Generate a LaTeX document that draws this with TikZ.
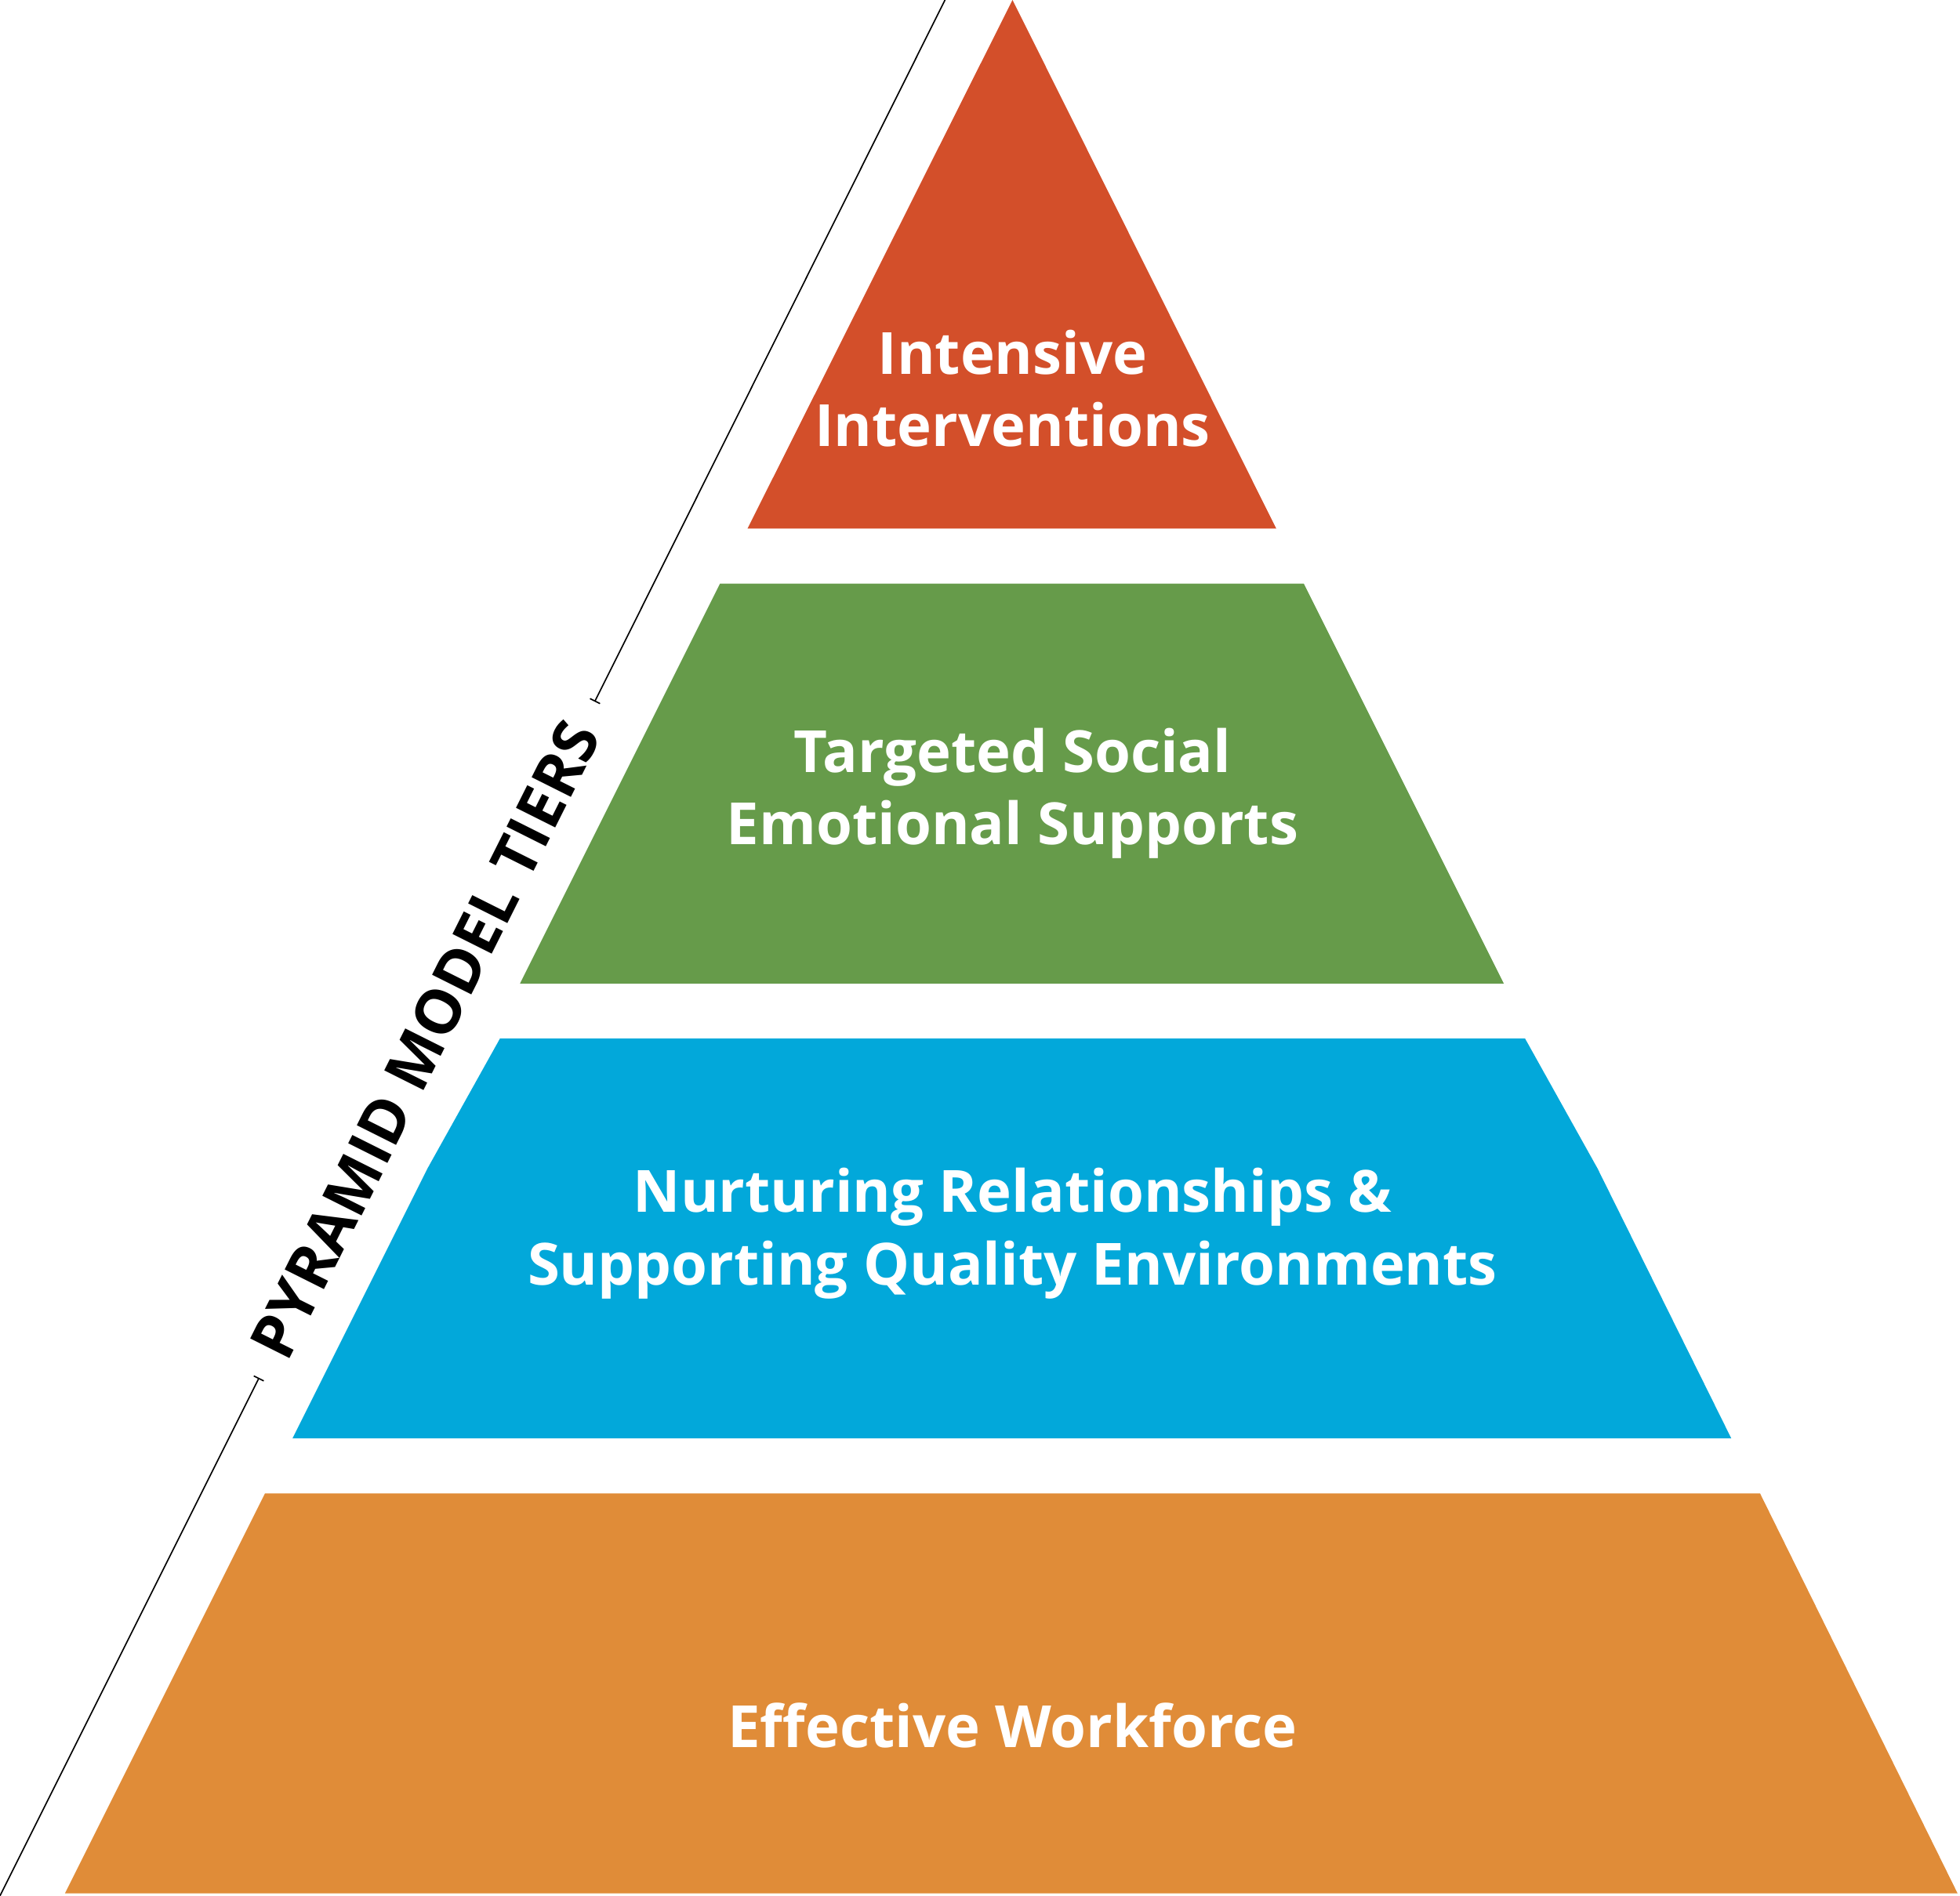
\documentclass[tikz,border=0pt]{standalone}
\usepackage{fontspec}
\setmainfont{Open Sans}
\usetikzlibrary{calc}
\begin{document}
\begin{tikzpicture}[x=0.02cm,y=-0.02cm,
  lbl/.style={text=white,font=\fontsize{26.5}{33}\selectfont\bfseries,align=center},
  tier/.style={draw=none}]
\useasboundingbox (0,0) rectangle (1568,1517);
\definecolor{cred}{HTML}{D34F2A}
\definecolor{cgreen}{HTML}{669B4A}
\definecolor{cblue}{HTML}{02A8DA}
\definecolor{corange}{HTML}{E08C38}
\fill[cred] (810,0) -- (1021,423) -- (598,423) -- cycle;
\fill[cgreen] (576,467) -- (1043,467) -- (1203,787) -- (416,787) -- cycle;
\fill[cblue] (400,831) -- (1220,831) -- (1278,935) -- (1385,1151) -- (234,1151) -- (342,935) -- cycle;
\fill[corange] (212,1195) -- (1408,1195) -- (1566,1515) -- (52,1515) -- cycle;
\node[lbl] (t1) at (810,311) {Intensive\\Interventions};
\node[lbl] (t2) at (810,635) {Targeted Social\\Emotional Supports};
\node[lbl] (t3) at (810,987) {Nurturing Relationships \&\\Supporting Quality Environments};
\node[lbl] (t4) at (810,1381) {Effective Workforce};
\coordinate (a1) at (756,0);
\coordinate (a2) at (476,561);
\coordinate (b1) at (207,1103);
\coordinate (b2) at (0,1517);
\draw[line width=0.6pt] (a1) -- (a2);
\draw[line width=0.6pt] (b1) -- (b2);
\draw[line width=0.6pt] ($(a2)+(-4,-2)$) -- ($(a2)+(4,2)$);
\draw[line width=0.6pt] ($(b1)+(-4,-2)$) -- ($(b1)+(4,2)$);
\node[rotate=63.4,font=\fontsize{28}{34}\selectfont\bfseries] (pm) at (340,832) {PYRAMID MODEL TIERS};
\end{tikzpicture}
\end{document}
